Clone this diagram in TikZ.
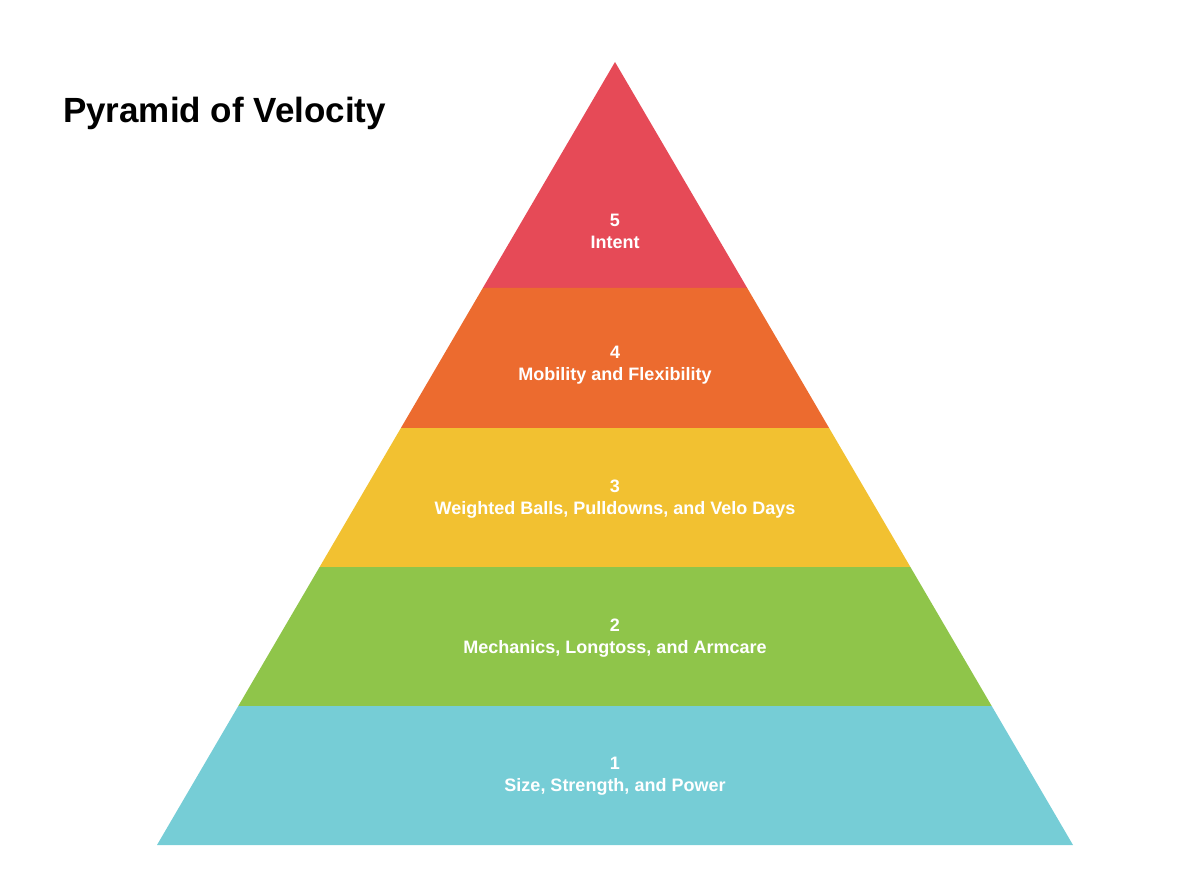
\documentclass[tikz,border=0pt]{standalone}
\usepackage{fontspec}
\setmainfont{Liberation Sans}
\definecolor{cA}{HTML}{E64A57}
\definecolor{cB}{HTML}{EC6B2F}
\definecolor{cC}{HTML}{F2C131}
\definecolor{cD}{HTML}{8FC54A}
\definecolor{cE}{HTML}{76CDD6}
\begin{document}
\begin{tikzpicture}[x=0.5pt,y=-0.5pt,
  lbl/.style={text=white,font=\fontsize{9}{11}\selectfont\bfseries,align=center}]
\useasboundingbox (0,0) rectangle (1200,882);
\fill[cA] (615,62) -- (747.2,288) -- (482.8,288) -- cycle;
\fill[cB] (482.8,288) -- (747.2,288) -- (829.1,428) -- (400.9,428) -- cycle;
\fill[cC] (400.9,428) -- (829.1,428) -- (910.4,567) -- (319.6,567) -- cycle;
\fill[cD] (319.6,567) -- (910.4,567) -- (991.7,706) -- (238.3,706) -- cycle;
\fill[cE] (238.3,706) -- (991.7,706) -- (1073,845) -- (157,845) -- cycle;
\node[anchor=west,font=\fontsize{17.5}{20}\selectfont\bfseries] (title) at (56,113) {Pyramid of Velocity};
\node[lbl] (l5) at (615,231) {5\\Intent};
\node[lbl] (l4) at (615,365) {4\\Mobility and Flexibility};
\node[lbl] (l3) at (615,499) {3\\Weighted Balls, Pulldowns, and Velo Days};
\node[lbl] (l2) at (615,638) {2\\Mechanics, Longtoss, and Armcare};
\node[lbl] (l1) at (615,776) {1\\Size, Strength, and Power};
\end{tikzpicture}
\end{document}
